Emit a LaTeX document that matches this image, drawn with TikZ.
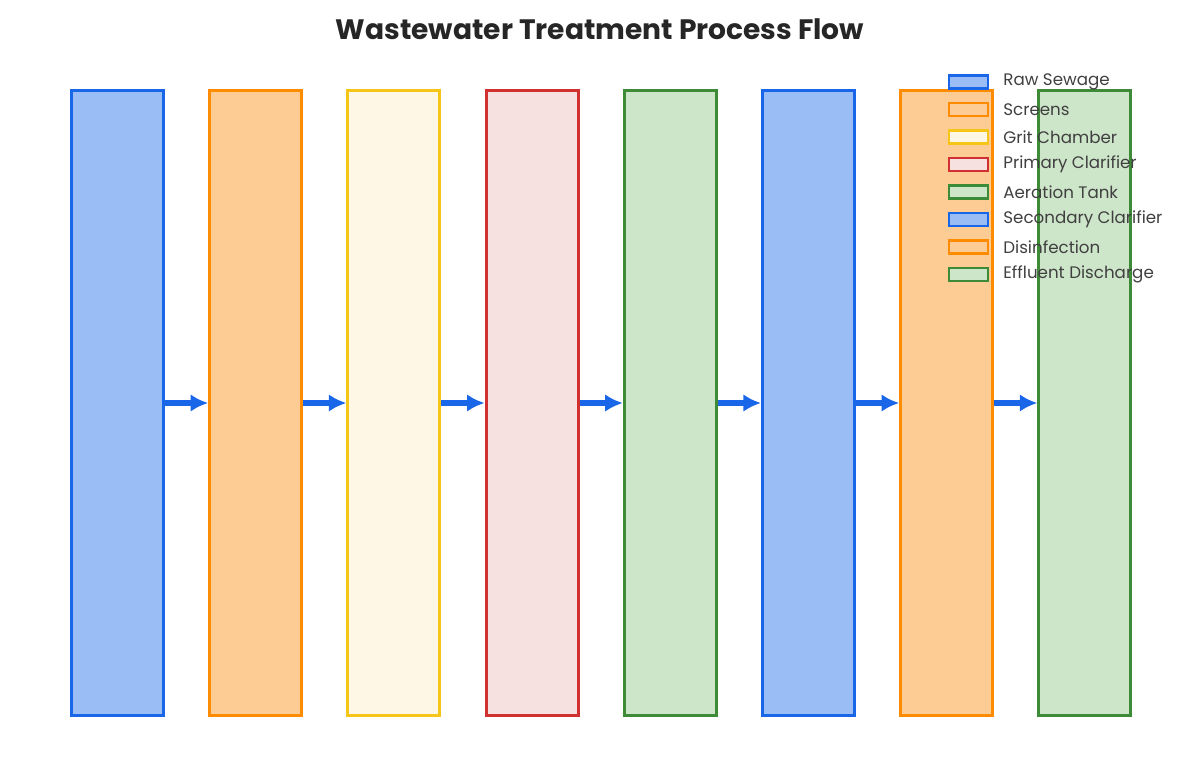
\documentclass[tikz,border=0pt]{standalone}
\usepackage{fontspec}
\setmainfont{Poppins}
\usetikzlibrary{arrows.meta}
\definecolor{bluestroke}{HTML}{1A66E8}\definecolor{bluefill}{HTML}{9BBDF5}
\definecolor{orangestroke}{HTML}{FF8C00}\definecolor{orangefill}{HTML}{FDCC94}
\definecolor{yellowstroke}{HTML}{F5C518}\definecolor{yellowfill}{HTML}{FEF7E6}
\definecolor{redstroke}{HTML}{D03030}\definecolor{redfill}{HTML}{F7E0E0}
\definecolor{greenstroke}{HTML}{3D8B37}\definecolor{greenfill}{HTML}{CDE5C8}
\tikzset{
  stage/.style={draw=#1stroke,fill=#1fill,line width=1.7pt,minimum width=1.84cm,minimum height=12.5cm,inner sep=0pt,anchor=north west},
  keybox/.style={draw=#1stroke,fill=#1fill,line width=1.5pt,minimum width=0.78cm,minimum height=0.26cm,inner sep=0pt},
  keytext/.style={anchor=west,font=\fontsize{9.5}{11}\selectfont,text=black!75,inner sep=0pt},
  flow/.style={-{Latex[length=10pt,width=10pt]},line width=3pt,bluestroke}
}
\begin{document}
\begin{tikzpicture}
\useasboundingbox (0,0) rectangle (24,-15.26);
\node[font=\fontsize{16}{19}\selectfont\bfseries,text=black!85] (title) at (12,-0.58) {Wastewater Treatment Process Flow};
% stages
\foreach \c [count=\i from 0] in {blue,orange,yellow,red,green,blue,orange,green}
  \node[stage=\c] (S\i) at (1.4+2.764*\i,-1.78) {};
% flow arrows
\foreach \i [evaluate=\i as \j using int(\i+1)] in {0,...,6}
  \draw[flow] (S\i.east) -- (S\j.west);
% legend
\foreach \c/\t [count=\k from 0] in {blue/Raw Sewage,orange/Screens,yellow/Grit Chamber,red/Primary Clarifier,green/Aeration Tank,blue/Secondary Clarifier,orange/Disinfection,green/Effluent Discharge}{
  \node[keybox=\c] (K\k) at (19.37,-1.64-0.55*\k) {};
  \node[keytext] (L\k) at (20.06,-1.64-0.55*\k) {\t};
}
\end{tikzpicture}
\end{document}
